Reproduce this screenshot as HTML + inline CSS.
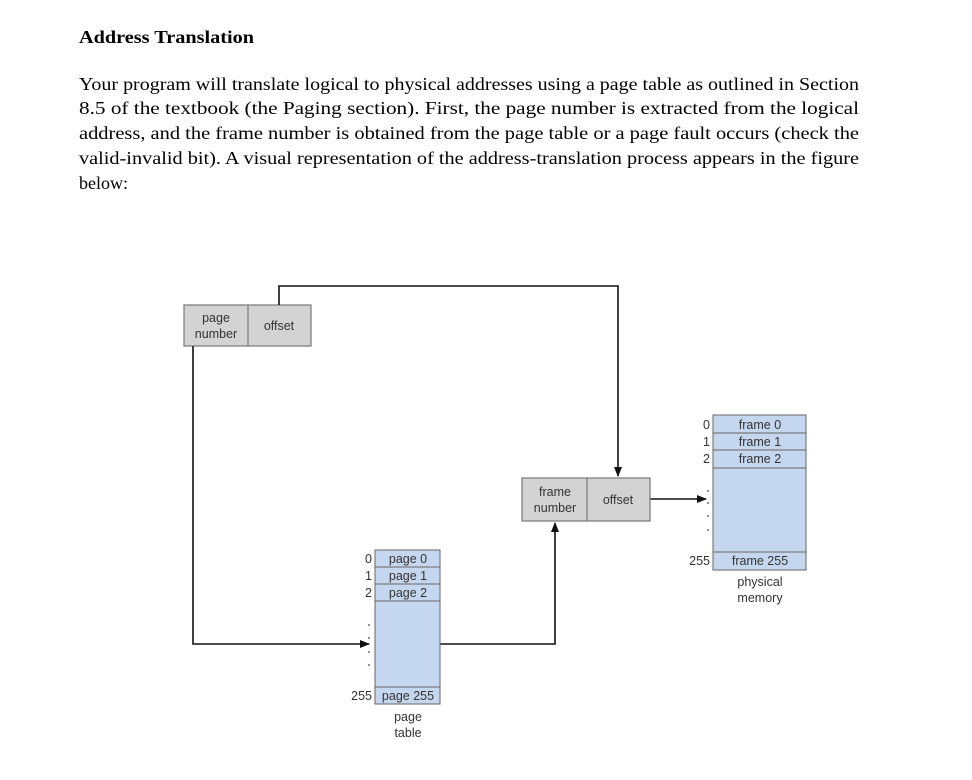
<!DOCTYPE html>
<html><head><meta charset="utf-8"><style>
body{margin:0;background:#fff;}
svg{display:block;}
.s{font-family:"Liberation Serif",serif;font-size:18px;fill:#000;}
.a{font-family:"Liberation Sans",sans-serif;font-size:12.5px;fill:#333;}
</style></head><body>
<svg width="972" height="780" viewBox="0 0 972 780" xmlns="http://www.w3.org/2000/svg">
<defs><marker id="ar" markerWidth="10" markerHeight="8" refX="9" refY="4" orient="auto" markerUnits="userSpaceOnUse"><path d="M0,0 L10,4 L0,8 Z" fill="#111"/></marker></defs>
<text class="s" x="79" y="43" font-weight="bold" textLength="175" lengthAdjust="spacingAndGlyphs">Address Translation</text>
<text class="s" x="79" y="90" textLength="780" lengthAdjust="spacingAndGlyphs">Your program will translate logical to physical addresses using a page table as outlined in Section</text>
<text class="s" x="79" y="114" textLength="780" lengthAdjust="spacingAndGlyphs">8.5 of the textbook (the Paging section). First, the page number is extracted from the logical</text>
<text class="s" x="79" y="139" textLength="780" lengthAdjust="spacingAndGlyphs">address, and the frame number is obtained from the page table or a page fault occurs (check the</text>
<text class="s" x="79" y="164" textLength="780" lengthAdjust="spacingAndGlyphs">valid-invalid bit). A visual representation of the address-translation process appears in the figure</text>
<text class="s" x="79" y="189">below:</text>

<rect x="184" y="305" width="127" height="41" fill="#d3d3d3" stroke="#777" stroke-width="1.2"/>
<line x1="248" y1="305" x2="248" y2="346" stroke="#777" stroke-width="1.2"/>
<text class="a" x="216" y="322" text-anchor="middle">page</text>
<text class="a" x="216" y="338" text-anchor="middle">number</text>
<text class="a" x="279" y="330" text-anchor="middle">offset</text>

<polyline points="279,305 279,286 618,286 618,476" fill="none" stroke="#111" stroke-width="1.6" marker-end="url(#ar)"/>
<polyline points="193,346 193,644 369,644" fill="none" stroke="#111" stroke-width="1.6" marker-end="url(#ar)"/>
<polyline points="440,644 555,644 555,523" fill="none" stroke="#111" stroke-width="1.6" marker-end="url(#ar)"/>
<line x1="650" y1="499" x2="706" y2="499" stroke="#111" stroke-width="1.6" marker-end="url(#ar)"/>

<rect x="522" y="478" width="128" height="43" fill="#d3d3d3" stroke="#777" stroke-width="1.2"/>
<line x1="587" y1="478" x2="587" y2="521" stroke="#777" stroke-width="1.2"/>
<text class="a" x="555" y="496" text-anchor="middle">frame</text>
<text class="a" x="555" y="512" text-anchor="middle">number</text>
<text class="a" x="618" y="504" text-anchor="middle">offset</text>

<rect x="375" y="550" width="65" height="154" fill="#c5d7ee" stroke="#666" stroke-width="1"/>
<line x1="375" y1="567" x2="440" y2="567" stroke="#666"/>
<line x1="375" y1="584" x2="440" y2="584" stroke="#666"/>
<line x1="375" y1="601" x2="440" y2="601" stroke="#666"/>
<line x1="375" y1="687" x2="440" y2="687" stroke="#666"/>
<text class="a" x="408" y="563" text-anchor="middle">page 0</text>
<text class="a" x="408" y="580" text-anchor="middle">page 1</text>
<text class="a" x="408" y="597" text-anchor="middle">page 2</text>
<text class="a" x="408" y="700" text-anchor="middle">page 255</text>
<text class="a" x="372" y="563" text-anchor="end">0</text>
<text class="a" x="372" y="580" text-anchor="end">1</text>
<text class="a" x="372" y="597" text-anchor="end">2</text>
<text class="a" x="372" y="700" text-anchor="end">255</text>
<g fill="#444"><circle cx="369" cy="625" r="0.9"/><circle cx="369" cy="638" r="0.9"/><circle cx="369" cy="652" r="0.9"/><circle cx="369" cy="665" r="0.9"/></g>
<text class="a" x="408" y="721" text-anchor="middle">page</text>
<text class="a" x="408" y="737" text-anchor="middle">table</text>

<rect x="713" y="415" width="93" height="155" fill="#c5d7ee" stroke="#666" stroke-width="1"/>
<line x1="713" y1="433" x2="806" y2="433" stroke="#666"/>
<line x1="713" y1="450" x2="806" y2="450" stroke="#666"/>
<line x1="713" y1="468" x2="806" y2="468" stroke="#666"/>
<line x1="713" y1="552" x2="806" y2="552" stroke="#666"/>
<text class="a" x="760" y="429" text-anchor="middle">frame 0</text>
<text class="a" x="760" y="446" text-anchor="middle">frame 1</text>
<text class="a" x="760" y="463" text-anchor="middle">frame 2</text>
<text class="a" x="760" y="565" text-anchor="middle">frame 255</text>
<text class="a" x="710" y="429" text-anchor="end">0</text>
<text class="a" x="710" y="446" text-anchor="end">1</text>
<text class="a" x="710" y="463" text-anchor="end">2</text>
<text class="a" x="710" y="565" text-anchor="end">255</text>
<g fill="#444"><circle cx="708" cy="491" r="0.9"/><circle cx="708" cy="503" r="0.9"/><circle cx="708" cy="516" r="0.9"/><circle cx="708" cy="530" r="0.9"/></g>
<text class="a" x="760" y="586" text-anchor="middle">physical</text>
<text class="a" x="760" y="602" text-anchor="middle">memory</text>
</svg>
</body></html>
